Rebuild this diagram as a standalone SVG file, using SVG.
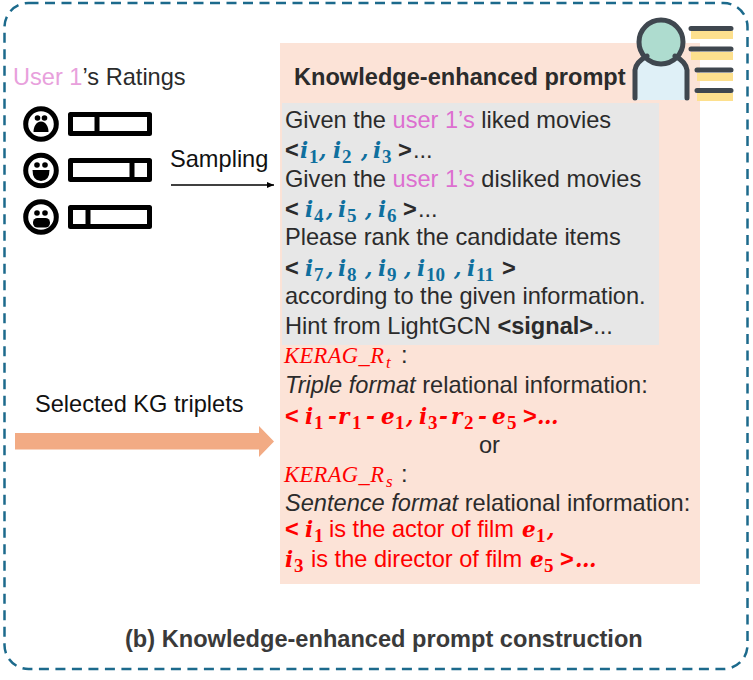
<svg xmlns="http://www.w3.org/2000/svg" width="753" height="680" viewBox="0 0 753 680">
<style>
text{font-family:"Liberation Sans",Arial,sans-serif;font-size:23.6px;fill:#2b2b2b}
.m{font-family:"DejaVu Serif","Liberation Serif",serif;font-weight:bold;font-style:italic;font-size:21.5px}
.n{font-family:"Liberation Serif","DejaVu Serif",serif;font-weight:bold;font-size:19px}
.b{fill:#0f6f9e}.r{fill:#f00}
.k{font-family:"Liberation Serif","Times New Roman",serif;font-style:italic;font-size:22.5px;fill:#f00;letter-spacing:.4px}
.ks{font-family:"Liberation Serif","Times New Roman",serif;font-style:italic;font-size:17px;fill:#f00}
.st{font-weight:bold}.p{fill:#dd6fd0}.blk{fill:#111}
.bar{fill:#fff;stroke:#000;stroke-width:5;stroke-linejoin:round}
.ink{fill:none;stroke:#3f474f;stroke-width:5;stroke-linecap:round}
.ye{fill:#fde08e}
</style>
<defs><marker id="a" markerWidth="9" markerHeight="8" refX="7" refY="3" orient="auto" markerUnits="userSpaceOnUse"><path d="M0 0L7 3L0 6Z" fill="#000"/></marker></defs>
<rect id="frame" x="4.500" y="3" width="743" height="666" rx="24" fill="#fff" stroke="#1c6a8c" stroke-width="2.500" stroke-dasharray="10 6.500"/>
<g id="prompt">
<rect x="280" y="43" width="420" height="541" fill="#fce3d7"/>
<rect x="282" y="103" width="377" height="242" fill="#e7e7e7"/>
<text x="294" y="85" class="st">Knowledge-enhanced prompt</text>
<text x="285" y="128">Given the <tspan class="p">user 1’s</tspan> liked movies</text>
<text y="158"><tspan class="st" x="285">&lt;</tspan><tspan class="m b" x="300">i</tspan><tspan class="n b" x="309" dy="5">1</tspan><tspan class="m b" x="319" dy="-5">,</tspan><tspan class="m b" x="333">i</tspan><tspan class="n b" x="342" dy="5">2</tspan><tspan class="m b" x="361" dy="-5">,</tspan><tspan class="m b" x="373">i</tspan><tspan class="n b" x="382" dy="5">3</tspan><tspan class="st" x="398" dy="-5">&gt;</tspan><tspan x="413">...</tspan></text>
<text x="285" y="187">Given the <tspan class="p">user 1’s</tspan> disliked movies</text>
<text y="217"><tspan class="st" x="285">&lt;</tspan><tspan class="m b" x="305">i</tspan><tspan class="n b" x="314" dy="5">4</tspan><tspan class="m b" x="326" dy="-5">,</tspan><tspan class="m b" x="338">i</tspan><tspan class="n b" x="347" dy="5">5</tspan><tspan class="m b" x="365" dy="-5">,</tspan><tspan class="m b" x="378">i</tspan><tspan class="n b" x="387" dy="5">6</tspan><tspan class="st" x="403" dy="-5">&gt;</tspan><tspan x="418">...</tspan></text>
<text x="285" y="245">Please rank the candidate items</text>
<text y="276"><tspan class="st" x="285">&lt;</tspan><tspan class="m b" x="305">i</tspan><tspan class="n b" x="314" dy="5">7</tspan><tspan class="m b" x="326" dy="-5">,</tspan><tspan class="m b" x="338">i</tspan><tspan class="n b" x="347" dy="5">8</tspan><tspan class="m b" x="365" dy="-5">,</tspan><tspan class="m b" x="378">i</tspan><tspan class="n b" x="387" dy="5">9</tspan><tspan class="m b" x="404" dy="-5">,</tspan><tspan class="m b" x="417">i</tspan><tspan class="n b" x="426" dy="5">10</tspan><tspan class="m b" x="454" dy="-5">,</tspan><tspan class="m b" x="467">i</tspan><tspan class="n b" x="476" dy="5">11</tspan><tspan class="st" x="502" dy="-5">&gt;</tspan></text>
<text x="285" y="304">according to the given information.</text>
<text x="285" y="334">Hint from LightGCN <tspan class="st">&lt;signal&gt;</tspan>...</text>
<text y="363"><tspan class="k" x="284">KERAG_R</tspan><tspan class="ks" x="386" dy="5">t</tspan><tspan x="401" dy="-5">:</tspan></text>
<text x="285" y="393"><tspan font-style="italic">Triple format</tspan> relational information:</text>
<text y="424"><tspan class="st r" x="285">&lt;</tspan><tspan class="m r" x="305">i</tspan><tspan class="n r" x="314" dy="5">1</tspan><tspan class="m r" x="328" dy="-5">-</tspan><tspan class="m r" x="338">r</tspan><tspan class="n r" x="352" dy="5">1</tspan><tspan class="m r" x="366" dy="-5">-</tspan><tspan class="m r" x="381">e</tspan><tspan class="n r" x="395" dy="5">1</tspan><tspan class="m r" x="406" dy="-5">,</tspan><tspan class="m r" x="419">i</tspan><tspan class="n r" x="428" dy="5">3</tspan><tspan class="m r" x="439" dy="-5">-</tspan><tspan class="m r" x="451">r</tspan><tspan class="n r" x="464" dy="5">2</tspan><tspan class="m r" x="478" dy="-5">-</tspan><tspan class="m r" x="492">e</tspan><tspan class="n r" x="507" dy="5">5</tspan><tspan class="st r" x="523" dy="-5">&gt;</tspan><tspan class="m r" x="537">…</tspan></text>
<text x="479" y="453">or</text>
<text y="482"><tspan class="k" x="284">KERAG_R</tspan><tspan class="ks" x="386" dy="5">s</tspan><tspan x="401" dy="-5">:</tspan></text>
<text x="285" y="511"><tspan font-style="italic">Sentence format</tspan> relational information:</text>
<text y="537"><tspan class="st r" x="285">&lt;</tspan><tspan class="m r" x="305">i</tspan><tspan class="n r" x="314" dy="5">1</tspan><tspan class="r" x="329" dy="-5">is the actor of film</tspan><tspan class="m r" x="522">e</tspan><tspan class="n r" x="536" dy="5">1</tspan><tspan class="m r" x="547" dy="-5">,</tspan></text>
<text y="567"><tspan class="m r" x="285">i</tspan><tspan class="n r" x="294" dy="5">3</tspan><tspan class="r" x="311" dy="-5">is the director of film</tspan><tspan class="m r" x="530">e</tspan><tspan class="n r" x="544" dy="5">5</tspan><tspan class="st r" x="560" dy="-5">&gt;</tspan><tspan class="m r" x="575">…</tspan></text>
</g>
<g id="user-icon">
<rect class="ye" x="691" y="31" width="42" height="8"/>
<rect class="ye" x="691" y="52" width="42" height="8"/>
<rect class="ye" x="697" y="73" width="36" height="8"/>
<rect class="ye" x="697" y="93" width="36" height="8"/>
<path d="M635 100V70Q636 60 650 57H672Q686 60 687 70V100Z" fill="#dff0f7"/>
<circle cx="661" cy="42" r="22" fill="#aedccf" stroke="#3f474f" stroke-width="5"/>
<path class="ink" d="M635 98V70Q636 62 647 56M675 56Q686 62 687 70V98"/>
<path class="ink" d="M691 28.500H731M691 49H731M697 70H731M697 90.500H731"/>
</g>
<g id="ratings">
<text x="13" y="85"><tspan style="fill:#e8a0dc">User 1</tspan>’s Ratings</text>
<circle cx="41" cy="124" r="15.300" fill="#fff" stroke="#000" stroke-width="5"/>
<circle cx="41" cy="170.500" r="15.300" fill="#fff" stroke="#000" stroke-width="5"/>
<circle cx="41" cy="217" r="15.300" fill="#fff" stroke="#000" stroke-width="5"/>
<circle cx="37.500" cy="118" r="2.800"/><circle cx="44.500" cy="118" r="2.800"/>
<path d="M41 121.500C36 121.500 33.500 127 33.500 132H48.500C48.500 127 46 121.500 41 121.500Z"/>
<circle cx="37" cy="165" r="2.800"/><circle cx="45" cy="165" r="2.800"/>
<path d="M32.500 170H49.500Q49.500 181 41 181Q32.500 181 32.500 170Z"/>
<circle cx="37" cy="213" r="2.800"/><circle cx="45" cy="213" r="2.800"/>
<rect x="33" y="218" width="17" height="9.500" rx="4.500"/>
<rect class="bar" x="70.500" y="114.500" width="79" height="19"/>
<rect class="bar" x="70.500" y="160.500" width="79" height="19"/>
<rect class="bar" x="70.500" y="207.500" width="79" height="19"/>
<path d="M97 114V133M132 160V180M88 207V227" stroke="#000" stroke-width="5"/>
<text x="170" y="167" class="blk">Sampling</text>
<text x="35" y="412" class="blk">Selected KG triplets</text>
</g>
<g id="connectors">
<path d="M171 185H274" stroke="#000" stroke-width="1.500" marker-end="url(#a)"/>
<path d="M15 433H259V426L274 441.500L259 457V449.500H15Z" fill="#f2ab84"/>
</g>
<text id="caption" x="125" y="647" class="st" style="fill:#3a3a3a">(b) Knowledge-enhanced prompt construction</text>
</svg>
